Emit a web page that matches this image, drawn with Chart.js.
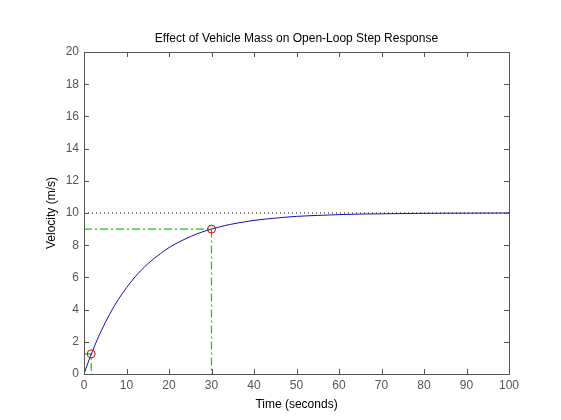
<!DOCTYPE html>
<html>
<head>
<meta charset="utf-8">
<script src="https://cdn.jsdelivr.net/npm/chart.js@4/dist/chart.umd.min.js"></script>
<style>
  html, body { margin: 0; padding: 0; background: #fff; }
  #wrap { width: 561px; height: 420px; }
</style>
</head>
<body>
<div id="wrap"><canvas id="stepChart" width="561" height="420"></canvas></div>
<script>
// step response
const timeSec = [0, 1, 2, 3, 4, 6, 8, 10, 12, 15, 18, 20, 22, 25, 28, 30, 33, 36, 40, 45, 50, 55, 60, 66, 70, 80, 90, 100];
const velocity = [0, 0.74, 1.42, 2.06, 2.65, 3.7, 4.6, 5.36, 6.03, 6.84, 7.48, 7.85, 8.15, 8.53, 8.84, 9.0, 9.21, 9.37, 9.54, 9.68, 9.79, 9.85, 9.9, 9.94, 9.95, 9.98, 9.99, 10];

// final value line
const finalX = [0, 100];
const finalY = [10, 10];

// marked points (red circles)
const markX = [1.7, 30];
const markY = [1.25, 9];

// green guide lines
const guide90X = [0, 30, 30];
const guide90Y = [9, 9, 0];
const guideStartX = [0, 1.7, 1.7];
const guideStartY = [1.25, 1.25, 0];

const xTicks = [0, 10, 20, 30, 40, 50, 60, 70, 80, 90, 100];
const yTicks = [0, 2, 4, 6, 8, 10, 12, 14, 16, 18, 20];

const chartTitle = "Effect of Vehicle Mass on Open-Loop Step Response";

function pts(xs, ys) {
  return xs.map((x, i) => ({ x: x, y: ys[i] }));
}

const axisColor = "#555";
const fontFam = "Liberation Sans";

// matlab-style box with inward ticks, title centred over the axes
const boxTicks = {
  id: "boxTicks",
  afterDraw(chart) {
    const { ctx, chartArea: a, scales } = chart;
    const len = 5;
    ctx.save();
    ctx.strokeStyle = axisColor;
    ctx.lineWidth = 1;
    ctx.beginPath();
    ctx.rect(Math.round(a.left) + 0.5, Math.round(a.top) + 0.5,
             Math.round(a.right - a.left), Math.round(a.bottom - a.top));
    xTicks.forEach((v) => {
      const px = Math.round(scales.x.getPixelForValue(v)) + 0.5;
      ctx.moveTo(px, a.bottom); ctx.lineTo(px, a.bottom - len);
      ctx.moveTo(px, a.top); ctx.lineTo(px, a.top + len);
    });
    yTicks.forEach((v) => {
      const py = Math.round(scales.y.getPixelForValue(v)) + 0.5;
      ctx.moveTo(a.left, py); ctx.lineTo(a.left + len, py);
      ctx.moveTo(a.right, py); ctx.lineTo(a.right - len, py);
    });
    ctx.stroke();

    ctx.fillStyle = "#000";
    ctx.font = "12px '" + fontFam + "'";
    ctx.textAlign = "center";
    ctx.textBaseline = "middle";
    ctx.fillText(chartTitle, (a.left + a.right) / 2, a.top - 13);
    ctx.restore();
  }
};

const ctx = document.getElementById("stepChart");

new Chart(ctx, {
  type: "line",
  data: {
    datasets: [
      {
        data: pts(markX, markY),
        showLine: false,
        pointStyle: "circle",
        pointRadius: 4,
        pointBorderColor: "#e00000",
        pointBackgroundColor: "rgba(0,0,0,0)",
        pointBorderWidth: 1
      },
      {
        data: pts(timeSec, velocity),
        borderColor: "#1010b0",
        borderWidth: 1,
        pointRadius: 0,
        cubicInterpolationMode: "monotone"
      },
      {
        data: pts(finalX, finalY),
        borderColor: "#000",
        borderWidth: 1,
        borderDash: [1, 3],
        pointRadius: 0
      },
      {
        data: pts(guide90X, guide90Y),
        borderColor: "#00cc00",
        borderWidth: 1.2,
        borderDash: [8, 3, 2, 3],
        pointRadius: 0,
        tension: 0
      },
      {
        data: pts(guideStartX, guideStartY),
        borderColor: "#00cc00",
        borderWidth: 1.2,
        borderDash: [8, 3, 2, 3],
        pointRadius: 0,
        tension: 0
      }
    ]
  },
  options: {
    responsive: false,
    animation: false,
    layout: { padding: { left: 44, right: 52, top: 52, bottom: 8 } },
    plugins: {
      legend: { display: false },
      tooltip: { enabled: false },
      title: { display: false }
    },
    scales: {
      x: {
        type: "linear",
        min: 0,
        max: 100,
        afterBuildTicks(s) { s.ticks = xTicks.map((v) => ({ value: v })); },
        afterFit(s) { s.height = 38; },
        grid: { display: false, drawTicks: false },
        border: { display: false },
        ticks: { color: "#555", padding: 4, font: { family: fontFam, size: 12 } },
        title: {
          display: true,
          text: "Time (seconds)",
          color: "#000",
          padding: { top: 2, bottom: 0 },
          font: { family: fontFam, size: 12 }
        }
      },
      y: {
        type: "linear",
        min: 0,
        max: 20,
        afterBuildTicks(s) { s.ticks = yTicks.map((v) => ({ value: v })); },
        afterFit(s) { s.width = 40; },
        grid: { display: false, drawTicks: false },
        border: { display: false },
        ticks: { color: "#555", padding: 5, font: { family: fontFam, size: 12 } },
        title: {
          display: true,
          text: "Velocity (m/s)",
          color: "#000",
          padding: { top: 0, bottom: 0 },
          font: { family: fontFam, size: 12 }
        }
      }
    }
  },
  plugins: [boxTicks]
});
</script>
</body>
</html>
